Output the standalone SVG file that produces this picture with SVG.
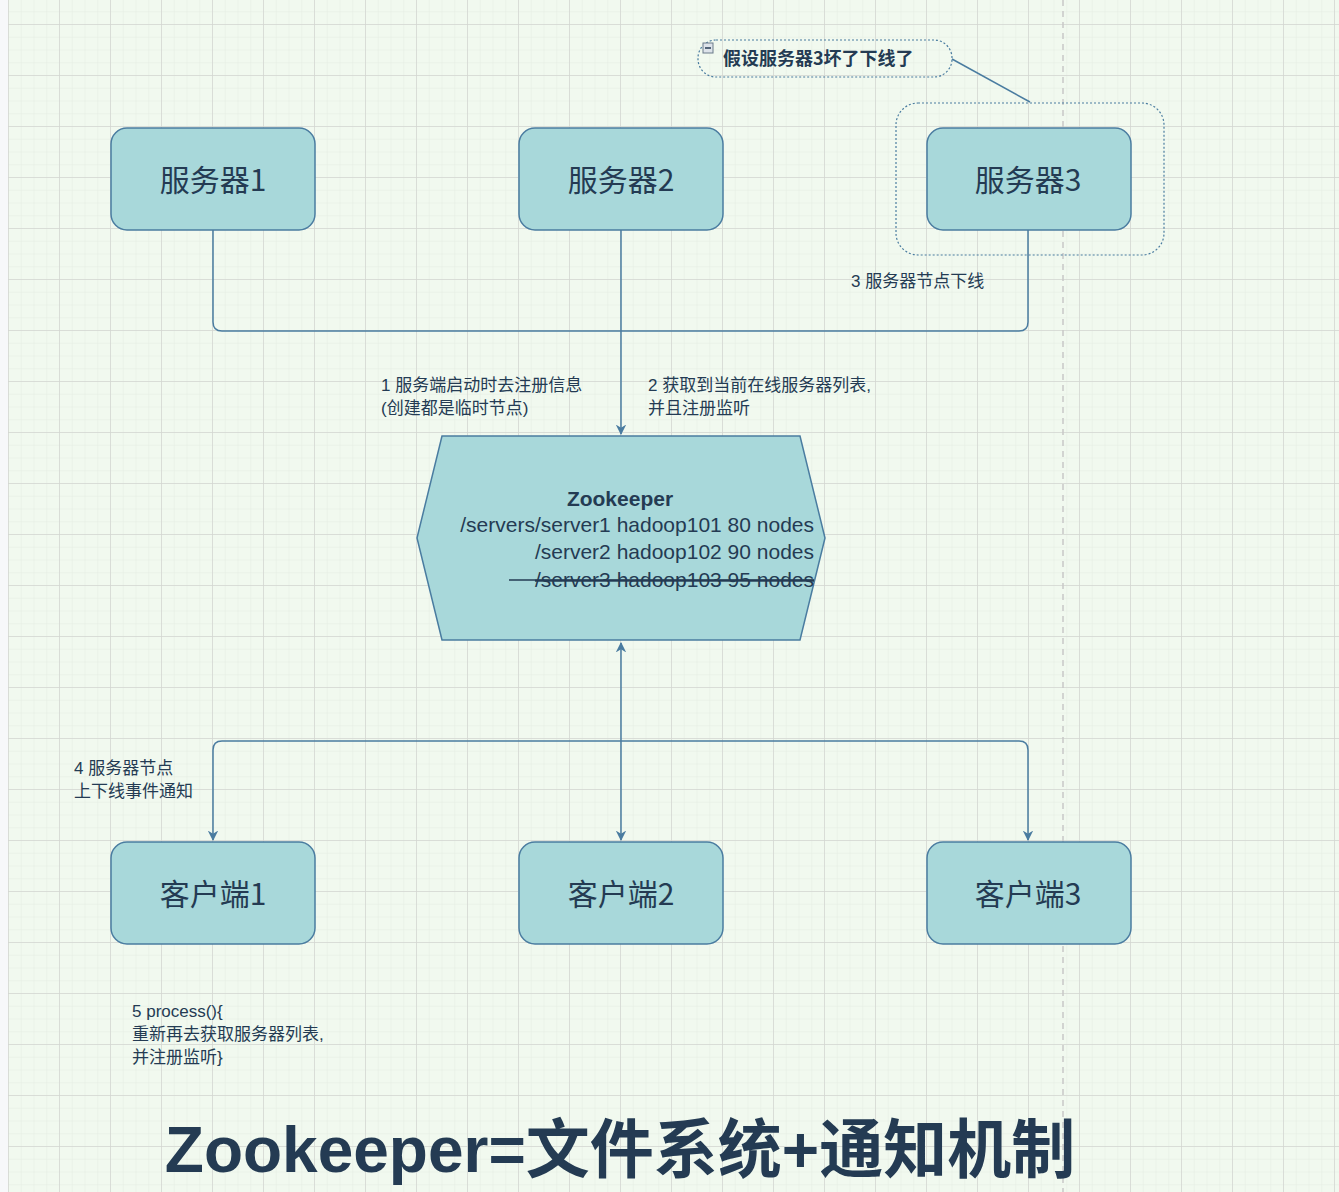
<svg xmlns="http://www.w3.org/2000/svg" width="1339" height="1192" viewBox="0 0 1339 1192">
<defs>
<pattern id="minor" x="8" y="24" width="12.75" height="12.75" patternUnits="userSpaceOnUse"><path d="M0 0H12.75M0 0V12.75" stroke="#e4ece2" stroke-width="1" fill="none"/></pattern>
<pattern id="major" x="8" y="24" width="51" height="51" patternUnits="userSpaceOnUse"><path d="M0 0H51M0 0V51" stroke="#d3d6d2" stroke-width="1.5" fill="none"/></pattern>
<marker id="arr" viewBox="0 0 10 10" refX="9" refY="5" markerWidth="7" markerHeight="7" orient="auto-start-reverse"><path d="M0 0L10 5L0 10L3 5z" fill="#4a7ca0"/></marker>
<style>
.box{fill:#a8d8da;stroke:#4a7ca0;stroke-width:1.5}
.big{font-family:"Noto Sans CJK SC","Liberation Sans",sans-serif;font-size:30px;fill:#243b53;text-anchor:middle}
.lbl{font-family:"Liberation Sans","Noto Sans CJK SC",sans-serif;font-size:17px;fill:#243b53}
.zk{font-family:"Liberation Sans","Noto Sans CJK SC",sans-serif;font-size:21px;fill:#243b53;text-anchor:end}
.ln{fill:none;stroke:#4a7ca0;stroke-width:1.5}
</style>
</defs>
<rect width="1339" height="1192" fill="#f1f9ef"/>
<rect x="8" width="1331" height="1192" fill="url(#minor)"/>
<rect x="8" width="1331" height="1192" fill="url(#major)"/>
<rect width="8" height="1192" fill="#f7f8fa"/>
<line x1="1063" y1="0" x2="1063" y2="1192" stroke="#c8c8c8" stroke-width="1.5" stroke-dasharray="6 5"/>
<g id="connectors">
<path class="ln" d="M213 230V322Q213 331 222 331H1019Q1028 331 1028 322V230"/>
<path class="ln" d="M621 230V434" marker-end="url(#arr)"/>
<path class="ln" d="M621 643V840" marker-start="url(#arr)" marker-end="url(#arr)"/>
<path class="ln" d="M213 840V750Q213 741 222 741H1019Q1028 741 1028 750V840" marker-start="url(#arr)" marker-end="url(#arr)"/>
<path class="ln" d="M952 59L1030 102"/>
</g>
<g id="callout">
<rect x="698" y="40" width="254" height="37" rx="18" fill="none" stroke="#4a7ca0" stroke-width="1.2" stroke-dasharray="2 2"/>
<rect x="703" y="43" width="10" height="10" fill="#dde3ea" stroke="#6a7a8a"/>
<line x1="705" y1="48" x2="711" y2="48" stroke="#243b53" stroke-width="1.5"/>
<text x="723" y="65" font-family="Noto Sans CJK SC,sans-serif" font-size="18" font-weight="bold" fill="#243b53">假设服务器3坏了下线了</text>
<rect x="896" y="103" width="268" height="152" rx="22" fill="none" stroke="#4a7ca0" stroke-width="1.2" stroke-dasharray="2 2"/>
</g>
<g id="s1"><rect class="box" x="111" y="128" width="204" height="102" rx="16"/><text class="big" x="213" y="191">服务器1</text></g>
<g id="s2"><rect class="box" x="519" y="128" width="204" height="102" rx="16"/><text class="big" x="621" y="191">服务器2</text></g>
<g id="s3"><rect class="box" x="927" y="128" width="204" height="102" rx="16"/><text class="big" x="1028" y="191">服务器3</text></g>
<g id="c1"><rect class="box" x="111" y="842" width="204" height="102" rx="16"/><text class="big" x="213" y="905">客户端1</text></g>
<g id="c2"><rect class="box" x="519" y="842" width="204" height="102" rx="16"/><text class="big" x="621" y="905">客户端2</text></g>
<g id="c3"><rect class="box" x="927" y="842" width="204" height="102" rx="16"/><text class="big" x="1028" y="905">客户端3</text></g>
<g id="zookeeper">
<polygon class="box" points="442,436 800,436 825,538 800,640 442,640 417,538"/>
<text x="620" y="506" font-family="Liberation Sans,sans-serif" font-size="21" font-weight="bold" fill="#243b53" text-anchor="middle">Zookeeper</text>
<text class="zk" x="814" y="532">/servers/server1 hadoop101 80 nodes</text>
<text class="zk" x="814" y="559">/server2 hadoop102 90 nodes</text>
<text class="zk" x="814" y="587" text-decoration="line-through">/server3 hadoop103 95 nodes</text>
<line x1="509" y1="580" x2="814" y2="580" stroke="#243b53" stroke-width="1.3"/>
</g>
<g id="labels">
<text class="lbl" x="851" y="287">3 服务器节点下线</text>
<text class="lbl" x="381" y="391">1 服务端启动时去注册信息</text>
<text class="lbl" x="381" y="414">(创建都是临时节点)</text>
<text class="lbl" x="648" y="391">2 获取到当前在线服务器列表,</text>
<text class="lbl" x="648" y="414">并且注册监听</text>
<text class="lbl" x="74" y="774">4 服务器节点</text>
<text class="lbl" x="74" y="797">上下线事件通知</text>
<text class="lbl" x="132" y="1017">5 process(){</text>
<text class="lbl" x="132" y="1040">重新再去获取服务器列表,</text>
<text class="lbl" x="132" y="1063">并注册监听}</text>
<text x="620" y="1172" font-family="Liberation Sans,Noto Sans CJK SC,sans-serif" font-size="64" font-weight="bold" fill="#243b53" text-anchor="middle">Zookeeper=文件系统+通知机制</text>
</g>
</svg>
